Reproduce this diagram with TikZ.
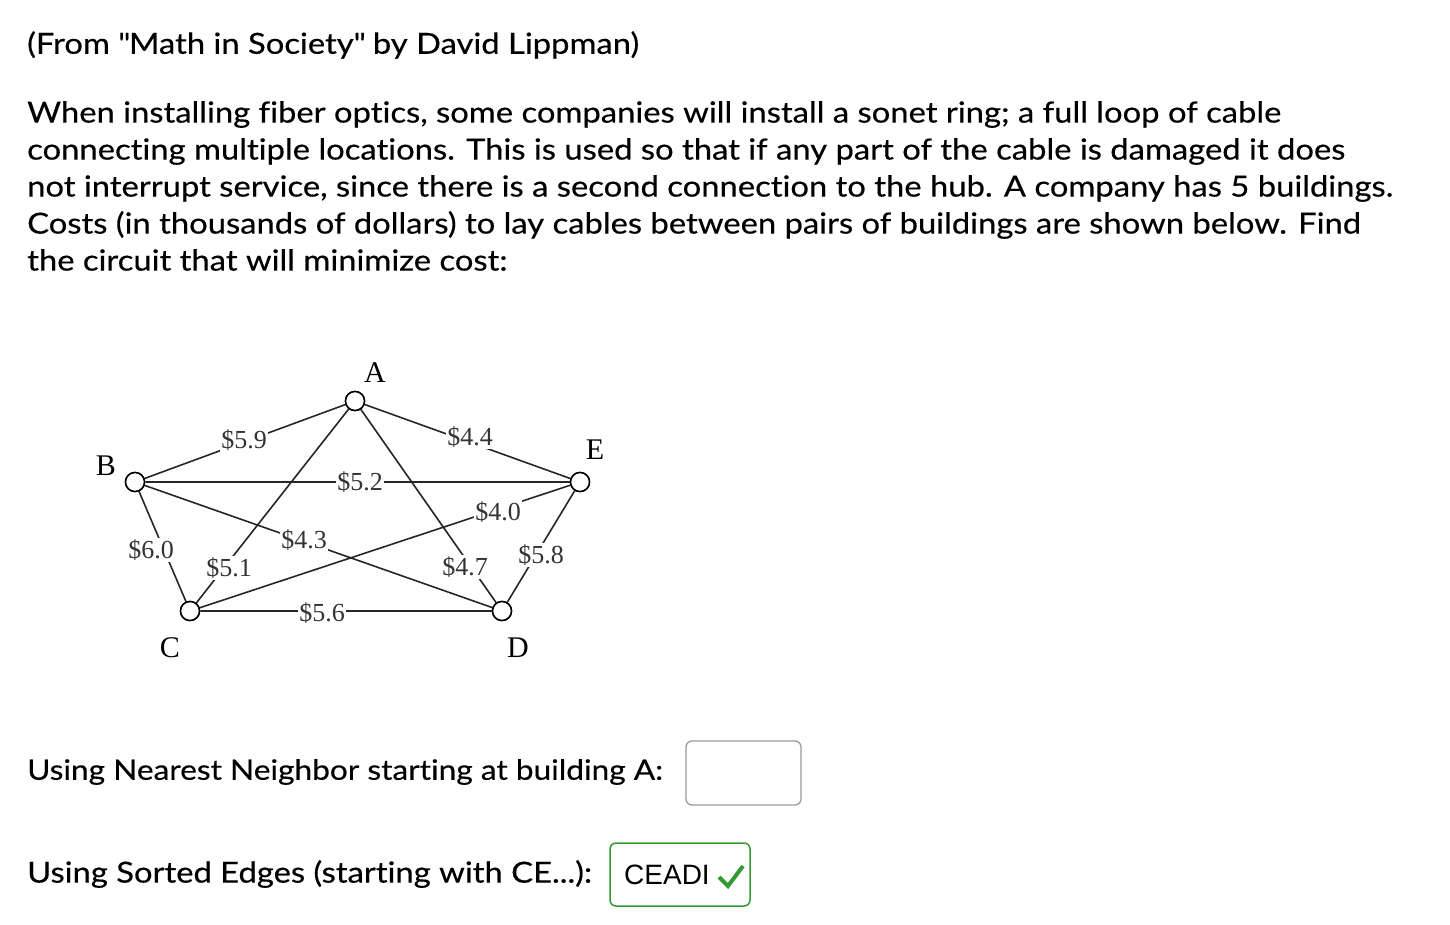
\documentclass[tikz,border=0pt]{standalone}
\usepackage{fontspec}
\setmainfont{Lato}[FakeStretch=1.13,FakeBold=0.4,Ligatures=NoCommon]
\newfontfamily\gfont{Liberation Serif}
\newfontfamily\afont{Liberation Sans}
\begin{document}
\begin{tikzpicture}[x=1pt,y=-1pt,
  vtx/.style={circle,draw,line width=1.5pt,fill=white,minimum size=19pt,inner sep=0pt},
  elab/.style={fill=white,inner sep=1.5pt,font=\gfont\fontsize{26}{26}\selectfont,text=black!80},
  vlab/.style={font=\gfont\fontsize{30}{30}\selectfont},
  txt/.style={anchor=west,font=\fontsize{29}{37}\selectfont,inner sep=0pt},
  edge/.style={line width=1.6pt,black!85}]
\useasboundingbox (0,0) rectangle (1450,924);
\node[txt] (t1) at (27,45) {(From \textquotedbl Math in Society\textquotedbl{} by David Lippman)};
\node[txt,anchor=north west,align=left] (t2) at (27,101) {When installing fiber optics, some companies will install a sonet ring; a full loop of cable\\connecting multiple locations. This is used so that if any part of the cable is damaged it does\\not interrupt service, since there is a second connection to the hub. A company has 5 buildings.\\Costs (in thousands of dollars) to lay cables between pairs of buildings are shown below. Find\\the circuit that will minimize cost:};
\node[vtx] (A) at (355,401) {};
\node[vtx] (B) at (135,482) {};
\node[vtx] (E) at (580,482) {};
\node[vtx] (C) at (190,611) {};
\node[vtx] (D) at (502,611) {};
\draw[edge] (A)--(B) (A)--(E) (A)--(C) (A)--(D) (B)--(E) (B)--(D) (B)--(C) (C)--(E) (C)--(D) (D)--(E);
\foreach \n in {A,B,C,D,E} {\node[vtx] at (\n) {};}
\node[elab] (l1) at (244,440) {\$5.9};
\node[elab] (l2) at (470,437) {\$4.4};
\node[elab] (l3) at (360,482) {\$5.2};
\node[elab] (l4) at (498,512) {\$4.0};
\node[elab] (l5) at (304,540) {\$4.3};
\node[elab] (l6) at (229,568) {\$5.1};
\node[elab] (l7) at (465,567) {\$4.7};
\node[elab] (l8) at (541,555) {\$5.8};
\node[elab] (l9) at (151,550) {\$6.0};
\node[elab] (l10) at (322,613) {\$5.6};
\node[vlab] (nA) at (375,373) {A};
\node[vlab] (nB) at (106,466) {B};
\node[vlab] (nE) at (595,450) {E};
\node[vlab] (nC) at (170,648) {C};
\node[vlab] (nD) at (518,648) {D};
\node[txt,font=\fontsize{28}{37}\selectfont] (q1) at (27,772) {Using Nearest Neighbor starting at building A:};
\draw[black!40,line width=1.3pt,rounded corners=6pt] (686,741) rectangle (801,805);
\node[txt] (q2) at (27,874) {Using Sorted Edges (starting with CE.{}.{}.):};
\draw[green!50!black!80,line width=1.5pt,rounded corners=6pt] (610,843) rectangle (750,906);
\node[anchor=west,inner sep=0pt,font=\afont\fontsize{28}{28}\selectfont] (ans) at (624,875) {CEADI};
\draw[green!50!black!80,line width=4pt] (719,877)--(728,886)--(743,866);
\end{tikzpicture}
\end{document}
